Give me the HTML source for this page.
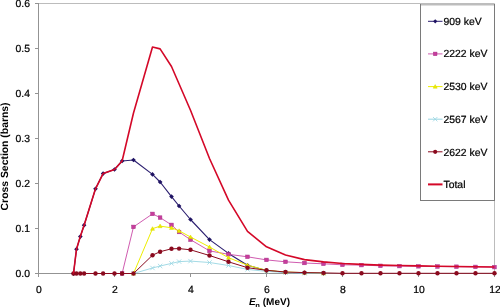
<!DOCTYPE html>
<html><head><meta charset="utf-8"><style>
html,body{margin:0;padding:0;background:#fff;}
body{width:500px;height:307px;overflow:hidden;}
svg{display:block;text-rendering:geometricPrecision;}
.t{font-family:"Liberation Sans",Arial,sans-serif;font-size:10.4px;fill:#000;stroke:#000;stroke-width:0.22px;}
.b{font-family:"Liberation Sans",Arial,sans-serif;font-size:10.4px;font-weight:bold;fill:#000;}
</style></head><body>
<svg width="500" height="307" viewBox="0 0 500 307">
<rect width="500" height="307" fill="#fff"/>
<path d="M38.5 3.5H494.5V273.5" fill="none" stroke="#bcbcbc" stroke-width="1"/>
<path d="M38.5 3V274M35 273.5H494.5" fill="none" stroke="#939393" stroke-width="1"/>
<path d="M35 273.5H38.5M35 228.5H38.5M35 183.5H38.5M35 138.5H38.5M35 93.5H38.5M35 48.5H38.5M35 3.5H38.5M38.5 273.5V277M114.5 273.5V277M190.5 273.5V277M266.5 273.5V277M342.5 273.5V277M418.5 273.5V277M494.5 273.5V277" stroke="#939393" stroke-width="1" fill="none"/>
<text x="30" y="277" text-anchor="end" class="t">0.0</text>
<text x="30" y="232" text-anchor="end" class="t">0.1</text>
<text x="30" y="187" text-anchor="end" class="t">0.2</text>
<text x="30" y="142" text-anchor="end" class="t">0.3</text>
<text x="30" y="97" text-anchor="end" class="t">0.4</text>
<text x="30" y="52" text-anchor="end" class="t">0.5</text>
<text x="30" y="7" text-anchor="end" class="t">0.6</text>
<text x="39.0" y="293" text-anchor="middle" class="t">0</text>
<text x="115.0" y="293" text-anchor="middle" class="t">2</text>
<text x="191.0" y="293" text-anchor="middle" class="t">4</text>
<text x="267.0" y="293" text-anchor="middle" class="t">6</text>
<text x="343.0" y="293" text-anchor="middle" class="t">8</text>
<text x="419.0" y="293" text-anchor="middle" class="t">10</text>
<text x="495.0" y="293" text-anchor="middle" class="t">12</text>
<polyline points="73.5,273.5 76.5,249.2 80.3,236.6 84.1,225.2 95.5,188.8 103.1,173.6 114.5,169.5 122.1,161.0 133.5,160.0 152.5,174.4 160.1,182.0 171.5,196.6 179.1,206.0 190.5,219.5 209.5,239.6 228.5,253.4 247.5,265.3 266.5,270.5 285.5,272.3 304.5,272.9 323.5,273.3" fill="none" stroke="#2c1f70" stroke-width="1.15" stroke-linejoin="round" />
<path d="M73.5 271.1L75.8 273.5L73.5 275.9L71.1 273.5Z" fill="#1e1262"/>
<path d="M76.5 246.8L78.8 249.2L76.5 251.5L74.2 249.2Z" fill="#1e1262"/>
<path d="M80.3 234.2L82.7 236.6L80.3 238.9L78.0 236.6Z" fill="#1e1262"/>
<path d="M84.1 222.8L86.4 225.2L84.1 227.5L81.8 225.2Z" fill="#1e1262"/>
<path d="M95.5 186.5L97.8 188.8L95.5 191.2L93.2 188.8Z" fill="#1e1262"/>
<path d="M103.1 171.2L105.4 173.6L103.1 175.9L100.8 173.6Z" fill="#1e1262"/>
<path d="M114.5 167.2L116.8 169.5L114.5 171.8L112.2 169.5Z" fill="#1e1262"/>
<path d="M122.1 158.7L124.5 161.0L122.1 163.3L119.8 161.0Z" fill="#1e1262"/>
<path d="M133.5 157.7L135.8 160.0L133.5 162.3L131.2 160.0Z" fill="#1e1262"/>
<path d="M152.5 172.1L154.8 174.4L152.5 176.8L150.2 174.4Z" fill="#1e1262"/>
<path d="M160.1 179.7L162.5 182.0L160.1 184.3L157.8 182.0Z" fill="#1e1262"/>
<path d="M171.5 194.2L173.8 196.6L171.5 198.9L169.2 196.6Z" fill="#1e1262"/>
<path d="M179.1 203.7L181.4 206.0L179.1 208.3L176.8 206.0Z" fill="#1e1262"/>
<path d="M190.5 217.2L192.8 219.5L190.5 221.8L188.2 219.5Z" fill="#1e1262"/>
<path d="M209.5 237.2L211.8 239.6L209.5 241.9L207.2 239.6Z" fill="#1e1262"/>
<path d="M228.5 251.1L230.8 253.4L228.5 255.8L226.2 253.4Z" fill="#1e1262"/>
<path d="M247.5 262.9L249.8 265.3L247.5 267.7L245.2 265.3Z" fill="#1e1262"/>
<path d="M266.5 268.1L268.9 270.5L266.5 272.9L264.1 270.5Z" fill="#1e1262"/>
<path d="M285.5 269.9L287.9 272.3L285.5 274.7L283.1 272.3Z" fill="#1e1262"/>
<path d="M304.5 270.5L306.9 272.9L304.5 275.2L302.1 272.9Z" fill="#1e1262"/>
<path d="M323.5 270.9L325.9 273.3L323.5 275.7L321.1 273.3Z" fill="#1e1262"/>
<polyline points="122.1,273.5 133.5,226.9 152.5,213.9 160.1,217.6 171.5,224.9 179.1,232.0 190.5,239.7 209.5,250.9 228.5,254.3 247.5,256.8 266.5,259.9 285.5,261.8 304.5,263.0 323.5,263.8 342.5,264.8 361.5,265.1 380.5,265.8 399.5,266.1 418.5,266.3 437.5,266.5 456.5,266.7 475.5,266.9 494.5,267.1" fill="none" stroke="#d05cb0" stroke-width="1" stroke-linejoin="round" />
<rect x="120.3" y="271.7" width="3.6" height="3.6" fill="#c83c9c" stroke="#a83088" stroke-width="0.5"/>
<rect x="131.7" y="225.1" width="3.6" height="3.6" fill="#c83c9c" stroke="#a83088" stroke-width="0.5"/>
<rect x="150.7" y="212.1" width="3.6" height="3.6" fill="#c83c9c" stroke="#a83088" stroke-width="0.5"/>
<rect x="158.3" y="215.8" width="3.6" height="3.6" fill="#c83c9c" stroke="#a83088" stroke-width="0.5"/>
<rect x="169.7" y="223.1" width="3.6" height="3.6" fill="#c83c9c" stroke="#a83088" stroke-width="0.5"/>
<rect x="177.3" y="230.2" width="3.6" height="3.6" fill="#c83c9c" stroke="#a83088" stroke-width="0.5"/>
<rect x="188.7" y="237.9" width="3.6" height="3.6" fill="#c83c9c" stroke="#a83088" stroke-width="0.5"/>
<rect x="207.7" y="249.1" width="3.6" height="3.6" fill="#c83c9c" stroke="#a83088" stroke-width="0.5"/>
<rect x="226.7" y="252.5" width="3.6" height="3.6" fill="#c83c9c" stroke="#a83088" stroke-width="0.5"/>
<rect x="245.7" y="255.0" width="3.6" height="3.6" fill="#c83c9c" stroke="#a83088" stroke-width="0.5"/>
<rect x="264.7" y="258.1" width="3.6" height="3.6" fill="#c83c9c" stroke="#a83088" stroke-width="0.5"/>
<rect x="283.7" y="260.0" width="3.6" height="3.6" fill="#c83c9c" stroke="#a83088" stroke-width="0.5"/>
<rect x="302.7" y="261.2" width="3.6" height="3.6" fill="#c83c9c" stroke="#a83088" stroke-width="0.5"/>
<rect x="321.7" y="262.0" width="3.6" height="3.6" fill="#c83c9c" stroke="#a83088" stroke-width="0.5"/>
<rect x="340.7" y="263.0" width="3.6" height="3.6" fill="#c83c9c" stroke="#a83088" stroke-width="0.5"/>
<rect x="359.7" y="263.3" width="3.6" height="3.6" fill="#c83c9c" stroke="#a83088" stroke-width="0.5"/>
<rect x="378.7" y="264.0" width="3.6" height="3.6" fill="#c83c9c" stroke="#a83088" stroke-width="0.5"/>
<rect x="397.7" y="264.3" width="3.6" height="3.6" fill="#c83c9c" stroke="#a83088" stroke-width="0.5"/>
<rect x="416.7" y="264.5" width="3.6" height="3.6" fill="#c83c9c" stroke="#a83088" stroke-width="0.5"/>
<rect x="435.7" y="264.7" width="3.6" height="3.6" fill="#c83c9c" stroke="#a83088" stroke-width="0.5"/>
<rect x="454.7" y="264.9" width="3.6" height="3.6" fill="#c83c9c" stroke="#a83088" stroke-width="0.5"/>
<rect x="473.7" y="265.1" width="3.6" height="3.6" fill="#c83c9c" stroke="#a83088" stroke-width="0.5"/>
<rect x="492.7" y="265.3" width="3.6" height="3.6" fill="#c83c9c" stroke="#a83088" stroke-width="0.5"/>
<polyline points="133.5,273.5 152.5,228.7 160.1,226.1 171.5,227.8 179.1,230.8 190.5,237.0 209.5,247.0 228.5,257.7 247.5,265.2 266.5,270.4 285.5,272.0 304.5,272.7 323.5,273.3" fill="none" stroke="#eeee00" stroke-width="1" stroke-linejoin="round" />
<path d="M133.5 271.5L135.5 275.1L131.5 275.1Z" fill="#eeee00" stroke="#d8d800" stroke-width="0.5"/>
<path d="M152.5 226.7L154.5 230.3L150.5 230.3Z" fill="#eeee00" stroke="#d8d800" stroke-width="0.5"/>
<path d="M160.1 224.1L162.1 227.7L158.1 227.7Z" fill="#eeee00" stroke="#d8d800" stroke-width="0.5"/>
<path d="M171.5 225.8L173.5 229.4L169.5 229.4Z" fill="#eeee00" stroke="#d8d800" stroke-width="0.5"/>
<path d="M179.1 228.8L181.1 232.4L177.1 232.4Z" fill="#eeee00" stroke="#d8d800" stroke-width="0.5"/>
<path d="M190.5 235.0L192.5 238.6L188.5 238.6Z" fill="#eeee00" stroke="#d8d800" stroke-width="0.5"/>
<path d="M209.5 245.0L211.5 248.6L207.5 248.6Z" fill="#eeee00" stroke="#d8d800" stroke-width="0.5"/>
<path d="M228.5 255.7L230.5 259.3L226.5 259.3Z" fill="#eeee00" stroke="#d8d800" stroke-width="0.5"/>
<path d="M247.5 263.2L249.5 266.8L245.5 266.8Z" fill="#eeee00" stroke="#d8d800" stroke-width="0.5"/>
<path d="M266.5 268.4L268.5 272.0L264.5 272.0Z" fill="#eeee00" stroke="#d8d800" stroke-width="0.5"/>
<path d="M285.5 270.0L287.5 273.6L283.5 273.6Z" fill="#eeee00" stroke="#d8d800" stroke-width="0.5"/>
<path d="M304.5 270.7L306.5 274.3L302.5 274.3Z" fill="#eeee00" stroke="#d8d800" stroke-width="0.5"/>
<path d="M323.5 271.3L325.5 274.9L321.5 274.9Z" fill="#eeee00" stroke="#d8d800" stroke-width="0.5"/>
<polyline points="133.5,273.5 152.5,268.0 160.1,266.0 171.5,263.4 179.1,261.6 190.5,261.1 209.5,262.5 228.5,265.5 247.5,269.4 266.5,271.4 285.5,272.5 304.5,273.3 323.5,273.3" fill="none" stroke="#98d6e2" stroke-width="0.9" stroke-linejoin="round" />
<path d="M131.3 271.3L135.7 275.7M131.3 275.7L135.7 271.3" stroke="#98d6e2" stroke-width="0.8" fill="none"/>
<path d="M150.3 265.8L154.7 270.2M150.3 270.2L154.7 265.8" stroke="#98d6e2" stroke-width="0.8" fill="none"/>
<path d="M157.9 263.8L162.3 268.2M157.9 268.2L162.3 263.8" stroke="#98d6e2" stroke-width="0.8" fill="none"/>
<path d="M169.3 261.2L173.7 265.6M169.3 265.6L173.7 261.2" stroke="#98d6e2" stroke-width="0.8" fill="none"/>
<path d="M176.9 259.4L181.3 263.8M176.9 263.8L181.3 259.4" stroke="#98d6e2" stroke-width="0.8" fill="none"/>
<path d="M188.3 258.9L192.7 263.3M188.3 263.3L192.7 258.9" stroke="#98d6e2" stroke-width="0.8" fill="none"/>
<path d="M207.3 260.3L211.7 264.7M207.3 264.7L211.7 260.3" stroke="#98d6e2" stroke-width="0.8" fill="none"/>
<path d="M226.3 263.3L230.7 267.7M226.3 267.7L230.7 263.3" stroke="#98d6e2" stroke-width="0.8" fill="none"/>
<path d="M245.3 267.2L249.7 271.6M245.3 271.6L249.7 267.2" stroke="#98d6e2" stroke-width="0.8" fill="none"/>
<path d="M264.3 269.2L268.7 273.6M264.3 273.6L268.7 269.2" stroke="#98d6e2" stroke-width="0.8" fill="none"/>
<path d="M283.3 270.3L287.7 274.7M283.3 274.7L287.7 270.3" stroke="#98d6e2" stroke-width="0.8" fill="none"/>
<path d="M302.3 271.1L306.7 275.5M302.3 275.5L306.7 271.1" stroke="#98d6e2" stroke-width="0.8" fill="none"/>
<path d="M321.3 271.1L325.7 275.5M321.3 275.5L325.7 271.1" stroke="#98d6e2" stroke-width="0.8" fill="none"/>
<polyline points="73.5,273.5 76.5,273.5 80.3,273.5 84.1,273.5 95.5,273.5 103.1,273.5 114.5,273.5 122.1,273.5 133.5,273.5 152.5,255.2 160.1,251.7 171.5,248.8 179.1,248.6 190.5,249.8 209.5,255.5 228.5,261.8 247.5,267.7 266.5,270.3 285.5,272.0 304.5,272.6 323.5,272.9 342.5,273.3 361.5,273.3 380.5,273.3 399.5,273.3 418.5,273.3 437.5,273.3 456.5,273.3 475.5,273.3 494.5,273.3" fill="none" stroke="#8a0a1e" stroke-width="1" stroke-linejoin="round" />
<circle cx="73.5" cy="273.5" r="2.2" fill="#8a0a1e"/>
<circle cx="76.5" cy="273.5" r="2.2" fill="#8a0a1e"/>
<circle cx="80.3" cy="273.5" r="2.2" fill="#8a0a1e"/>
<circle cx="84.1" cy="273.5" r="2.2" fill="#8a0a1e"/>
<circle cx="95.5" cy="273.5" r="2.2" fill="#8a0a1e"/>
<circle cx="103.1" cy="273.5" r="2.2" fill="#8a0a1e"/>
<circle cx="114.5" cy="273.5" r="2.2" fill="#8a0a1e"/>
<circle cx="122.1" cy="273.5" r="2.2" fill="#8a0a1e"/>
<circle cx="133.5" cy="273.5" r="2.2" fill="#8a0a1e"/>
<circle cx="152.5" cy="255.2" r="2.2" fill="#8a0a1e"/>
<circle cx="160.1" cy="251.7" r="2.2" fill="#8a0a1e"/>
<circle cx="171.5" cy="248.8" r="2.2" fill="#8a0a1e"/>
<circle cx="179.1" cy="248.6" r="2.2" fill="#8a0a1e"/>
<circle cx="190.5" cy="249.8" r="2.2" fill="#8a0a1e"/>
<circle cx="209.5" cy="255.5" r="2.2" fill="#8a0a1e"/>
<circle cx="228.5" cy="261.8" r="2.2" fill="#8a0a1e"/>
<circle cx="247.5" cy="267.7" r="2.2" fill="#8a0a1e"/>
<circle cx="266.5" cy="270.3" r="2.2" fill="#8a0a1e"/>
<circle cx="285.5" cy="272.0" r="2.2" fill="#8a0a1e"/>
<circle cx="304.5" cy="272.6" r="2.2" fill="#8a0a1e"/>
<circle cx="323.5" cy="272.9" r="2.2" fill="#8a0a1e"/>
<circle cx="342.5" cy="273.3" r="2.2" fill="#8a0a1e"/>
<circle cx="361.5" cy="273.3" r="2.2" fill="#8a0a1e"/>
<circle cx="380.5" cy="273.3" r="2.2" fill="#8a0a1e"/>
<circle cx="399.5" cy="273.3" r="2.2" fill="#8a0a1e"/>
<circle cx="418.5" cy="273.3" r="2.2" fill="#8a0a1e"/>
<circle cx="437.5" cy="273.3" r="2.2" fill="#8a0a1e"/>
<circle cx="456.5" cy="273.3" r="2.2" fill="#8a0a1e"/>
<circle cx="475.5" cy="273.3" r="2.2" fill="#8a0a1e"/>
<circle cx="494.5" cy="273.3" r="2.2" fill="#8a0a1e"/>
<polyline points="73.5,273.5 76.5,249.2 80.3,236.6 84.1,225.2 95.5,188.8 103.1,173.6 114.5,169.5 122.1,161.0 133.5,113.0 152.5,47.0 160.1,48.9 171.5,66.5 179.1,84.0 190.5,110.3 209.5,158.5 228.5,200.2 247.5,231.3 266.5,246.8 285.5,255.0 304.5,259.6 323.5,261.9 342.5,263.5 361.5,264.4 380.5,265.1 399.5,265.5 418.5,265.9 437.5,266.2 456.5,266.5 475.5,266.7 494.5,267.0" fill="none" stroke="#d40828" stroke-width="1.6" stroke-linejoin="round" />
<rect x="420.5" y="4.5" width="74" height="196" fill="#fff" stroke="#7a7a7a" stroke-width="1"/><rect x="421" y="3" width="73" height="2.5" fill="#bdbdbd"/>
<path d="M428 21.3H442.5" stroke="#2c1f70" stroke-width="1"/>
<path d="M435.2 19.2L437.3 21.3L435.2 23.4L433.1 21.3Z" fill="#1e1262"/>
<text x="443.5" y="25" class="t">909 keV</text>
<path d="M428 53.9H442.5" stroke="#d05cb0" stroke-width="1"/>
<rect x="433.4" y="52.1" width="3.6" height="3.6" fill="#c83c9c" stroke="#a83088" stroke-width="0.5"/>
<text x="443.5" y="57" class="t">2222 keV</text>
<path d="M428 86.6H442.5" stroke="#eeee00" stroke-width="1"/>
<path d="M435.2 84.6L437.2 88.2L433.2 88.2Z" fill="#eeee00" stroke="#d8d800" stroke-width="0.5"/>
<text x="443.5" y="90" class="t">2530 keV</text>
<path d="M428 119.2H442.5" stroke="#98d6e2" stroke-width="1"/>
<path d="M433.0 117.0L437.4 121.4M433.0 121.4L437.4 117.0" stroke="#98d6e2" stroke-width="0.8" fill="none"/>
<text x="443.5" y="123" class="t">2567 keV</text>
<path d="M428 151.8H442.5" stroke="#8a0a1e" stroke-width="1"/>
<circle cx="435.2" cy="151.8" r="2.1" fill="#8a0a1e"/>
<text x="443.5" y="156" class="t">2622 keV</text>
<path d="M428 184.4H442.5" stroke="#d40828" stroke-width="2"/>
<text x="443.5" y="188" class="t">Total</text>
<text transform="translate(7.6 210.4) rotate(-90)" class="b">Cross Section (barns)</text>
<text x="249" y="304.6" class="b" style="font-size:10px"><tspan font-style="italic">E</tspan><tspan font-size="7.6" dy="2.9" dx="-0.4">n</tspan><tspan dy="-2.9" dx="0.1"> (MeV)</tspan></text>
</svg>
</body></html>
